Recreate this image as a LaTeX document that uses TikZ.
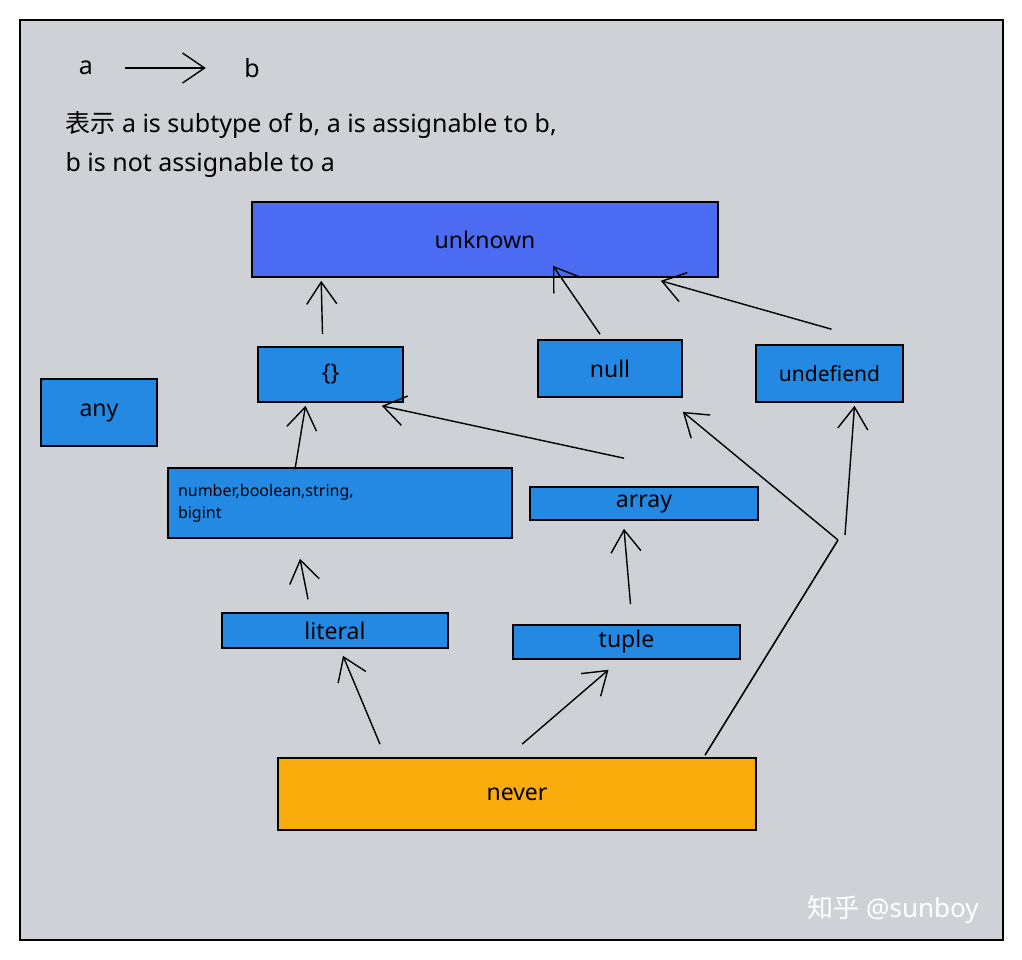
\documentclass[tikz,border=0pt]{standalone}
\usepackage{fontspec}
\setmainfont{Noto Sans}
\newfontfamily\cjk{Noto Sans CJK SC}
\usetikzlibrary{arrows.meta,calc}
\definecolor{panel}{HTML}{CED2D7}
\definecolor{bluebox}{HTML}{2389E2}
\definecolor{unk}{HTML}{4B6BF2}
\definecolor{nev}{HTML}{F9AC0B}
\begin{document}
\begin{tikzpicture}[x=1pt,y=-1pt,
  box/.style={draw=black,line width=1.6pt,fill=bluebox,font=\fontsize{23}{25}\selectfont},
  arr/.style={line width=1.4pt,-{Straight Barb[length=22pt,width=30pt,line width=1.4pt]}},
  ln/.style={line width=1.6pt}]
\useasboundingbox (0,0) rectangle (1022,959);
\fill[white] (0,0) rectangle (1022,959);
\draw[line width=1.8pt,fill=panel] (20,20) rectangle (1003,940);
% legend
\node[font=\fontsize{25}{27}\selectfont] (la) at (86,68) {a};
\node[font=\fontsize{25}{27}\selectfont] (lb) at (252,68) {b};
\draw[arr] ($(la.east)+(28,0)$) coordinate (l1) -- ($(lb.west)+(-35,0)$) coordinate (l2);
\node[anchor=west,font=\fontsize{25}{27}\selectfont] (t1) at (62,125) {{\cjk 表示} a is subtype of b, a is assignable to b,};
\node[anchor=west,font=\fontsize{25}{27}\selectfont] (t2) at (62,165) {b is not assignable to a};
% boxes
\node[box,fill=unk,minimum width=466pt,minimum height=75pt] (unknown) at (485,239.5) {unknown};
\node[box,minimum width=145pt,minimum height=55pt] (obj) at (330.5,374.5) {\{\}};
\node[box,minimum width=144pt,minimum height=57pt] (null) at (610,368.5) {null};
\node[box,minimum width=147pt,minimum height=57pt,font=\fontsize{21}{23}\selectfont] (undef) at (829.5,373.5) {undefiend};
\node[box,minimum width=116pt,minimum height=67pt] (any) at (99,412.5) {any};
\node[box,minimum width=344pt,minimum height=70pt,align=left,font=\fontsize{16}{22}\selectfont,text width=324pt] (prim) at (340,503) {number,boolean,string,\\bigint};
\node[box,minimum width=228pt,minimum height=33pt,inner sep=0pt] (array) at (644,503.5) {array};
\node[box,minimum width=226pt,minimum height=35pt,inner sep=0pt] (literal) at (335,630.5) {literal};
\node[box,minimum width=227pt,minimum height=34pt,inner sep=0pt] (tuple) at (626.5,642) {tuple};
\node[box,fill=nev,minimum width=478pt,minimum height=72pt] (never) at (517,794) {never};
% arrows
\draw[arr] ($(obj.north)+(-8,-12)$) coordinate (o1) -- ($(unknown.south west)+(70,3)$);
\draw[arr] ($(null.north)+(-10,-5)$) coordinate (n1) -- ($(unknown.south)+(68,-12)$);
\draw[arr] ($(undef.north)+(2,-15)$) coordinate (u1) -- ($(unknown.south east)+(-58,3)$);
\draw[arr] ($(prim.north)+(-45,2)$) coordinate (p1) -- ($(obj.south)+(-25,3)$);
\draw[arr] ($(array.north)+(-20,-28)$) coordinate (a1) -- ($(obj.south east)+(-22,3)$);
\draw[arr] ($(literal.north)+(-27,-13)$) coordinate (li1) -- ($(prim.south)+(-40,20)$);
\draw[arr] ($(tuple.north)+(4,-20)$) coordinate (tu1) -- ($(array.south)+(-20,8)$);
\draw[arr] ($(never.north)+(-137,-13)$) coordinate (nv1) -- ($(literal.south)+(8,7)$);
\draw[arr] ($(never.north)+(5,-13)$) coordinate (nv2) -- ($(tuple.south)+(-18,10)$);
\coordinate (nv3) at ($(never.north)+(188,-2)$);
\coordinate (j) at (838,540);
\draw[ln] (nv3) -- (j);
\draw[arr] (j) -- ($(null.south east)+(0,14)$);
\draw[arr] (845,535) -- ($(undef.south)+(25,3)$);
% watermark
\node[text=white,font=\fontsize{26}{28}\selectfont] (wm) at (893,910) {{\cjk 知乎} @sunboy};
\end{tikzpicture}
\end{document}
